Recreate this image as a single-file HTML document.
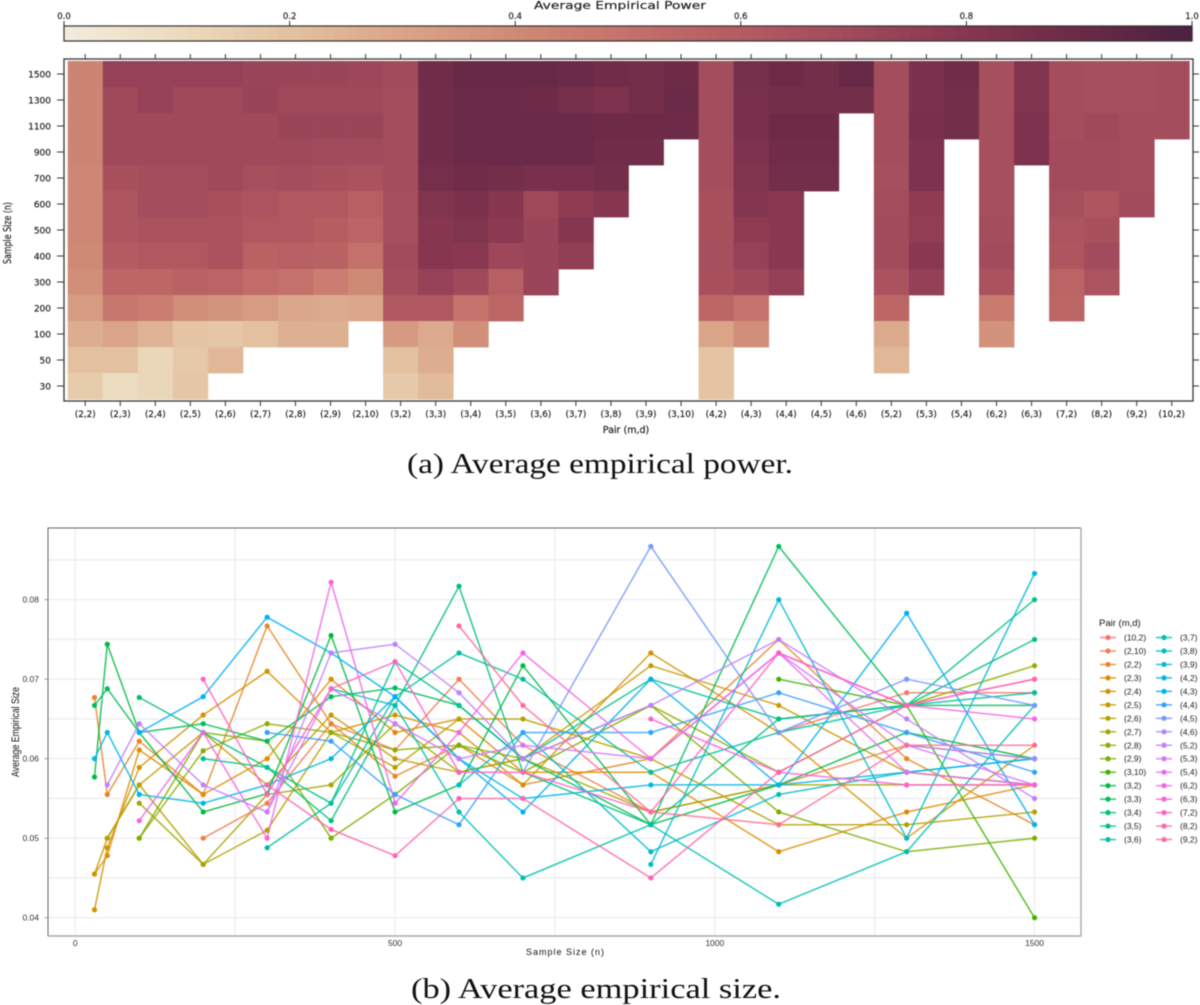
<!DOCTYPE html>
<html lang="en">
<head>
<meta charset="utf-8">
<title>Average empirical power and size</title>
<style>
  html, body { margin: 0; padding: 0; background: #fff; width: 1200px; height: 1005px; overflow: hidden; }
  svg { display: block; filter: blur(0.45px); }
  .lv { font-family: "DejaVu Sans", sans-serif; fill: #222; stroke: #222; stroke-width: 0.18px; }
  .gg { font-family: "Liberation Sans", sans-serif; }
  .cap { font-family: "Liberation Serif", serif; font-size: 29px; fill: #111; }
</style>
</head>
<body>
<svg id="figure" xmlns="http://www.w3.org/2000/svg" width="1200" height="1005" viewBox="0 0 1200 1005">
  <rect x="0" y="0" width="1200" height="1005" fill="#fff"/>
  <text class="lv" x="620" y="9" text-anchor="middle" font-size="11" textLength="172" lengthAdjust="spacingAndGlyphs">Average Empirical Power</text>
  <g id="colorbar"></g>
  <g id="heatmap"></g>
  <text class="lv" x="626" y="433" text-anchor="middle" font-size="9.5">Pair (m,d)</text>
  <text class="lv" transform="translate(11,233) rotate(-90)" text-anchor="middle" font-size="10.5" textLength="62" lengthAdjust="spacingAndGlyphs">Sample Size (n)</text>
  <text class="cap" x="407" y="473" textLength="386" lengthAdjust="spacingAndGlyphs">(a) Average empirical power.</text>
  <g id="linechart"></g>
  <text class="gg" x="565" y="955" text-anchor="middle" font-size="9" fill="#111" textLength="78" lengthAdjust="spacing">Sample Size (n)</text>
  <text class="gg" transform="translate(19,732) rotate(-90)" text-anchor="middle" font-size="11" fill="#111" textLength="90" lengthAdjust="spacingAndGlyphs">Average Empirical Size</text>
  <text class="gg" x="1099" y="626" font-size="9.5" fill="#111">Pair (m,d)</text>
  <g id="legend"></g>
  <text class="cap" x="411" y="998" textLength="370" lengthAdjust="spacingAndGlyphs">(b) Average empirical size.</text>
</svg>
<script>
const _ = null;

/* ---------- shared data ---------- */
const sampleSizes = [30, 50, 100, 200, 300, 400, 500, 600, 700, 900, 1100, 1300, 1500];

/* ---------- heatmap data ---------- */
const heatColumns = ["(2,2)","(2,3)","(2,4)","(2,5)","(2,6)","(2,7)","(2,8)","(2,9)","(2,10)","(3,2)","(3,3)","(3,4)","(3,5)","(3,6)","(3,7)","(3,8)","(3,9)","(3,10)","(4,2)","(4,3)","(4,4)","(4,5)","(4,6)","(5,2)","(5,3)","(5,4)","(6,2)","(6,3)","(7,2)","(8,2)","(9,2)","(10,2)"];
const heatRowLabels = [1500, 1300, 1100, 900, 700, 600, 500, 400, 300, 200, 100, 50, 30];
const powerValues = [
  [.42,.74,.74,.74,.74,.72,.72,.72,.71,.69,.88,.91,.91,.91,.90,.88,.87,.89,.68,.86,.89,.87,.91,.68,.84,.88,.67,.82,.68,.67,.67,.68],
  [.42,.70,.74,.70,.70,.73,.70,.70,.70,.68,.88,.90,.90,.89,.86,.83,.87,.90,.68,.85,.87,.87,.87,.68,.84,.87,.67,.82,.68,.67,.67,.68],
  [.42,.70,.70,.70,.70,.70,.72,.72,.72,.68,.88,.90,.90,.90,.90,.89,.89,.89,.68,.85,.89,.89,_,.68,.85,.87,.67,.83,.68,.70,.68,.68],
  [.42,.70,.70,.70,.70,.70,.70,.69,.69,.68,.88,.90,.90,.90,.90,.88,.88,_,.68,.83,.88,.88,_,.68,.83,_,.67,.83,.69,.69,.68,_],
  [.41,.66,.68,.68,.70,.67,.68,.66,.65,.68,.86,.88,.87,.85,.85,.87,_,_,.68,.82,.87,.87,_,.67,.83,_,.67,_,.69,.69,.68,_],
  [.41,.63,.68,.68,.66,.64,.62,.62,.58,.67,.82,.84,.80,.70,.77,.80,_,_,.66,.81,.79,_,_,.68,.77,_,.67,_,.67,.63,.69,_],
  [.41,.63,.65,.65,.65,.62,.62,.59,.56,.67,.80,.82,.78,.72,.80,_,_,_,.66,.77,.79,_,_,.69,.76,_,.68,_,.64,.66,_,_],
  [.40,.60,.62,.62,.65,.57,.58,.57,.50,.69,.80,.79,.71,.72,.76,_,_,_,.67,.74,.79,_,_,.69,.79,_,.69,_,.63,.69,_,_],
  [.38,.55,.55,.57,.56,.52,.50,.45,.40,.68,.74,.70,.58,.72,_,_,_,_,.66,.70,.75,_,_,.65,.75,_,.65,_,.56,.64,_,_],
  [.33,.47,.45,.39,.36,.33,.29,.28,.29,.62,.62,.49,.55,_,_,_,_,_,.55,.49,_,_,_,.55,_,_,.46,_,.55,_,_,_],
  [.27,.30,.25,.19,.18,.20,.26,.26,_,.34,.28,.38,_,_,_,_,_,_,.30,.38,_,_,_,.28,_,_,.37,_,_,_,_,_],
  [.20,.20,.12,.17,.23,_,_,_,_,.20,.27,_,_,_,_,_,_,_,.19,_,_,_,_,.23,_,_,_,_,_,_,_,_],
  [.16,.10,.12,.18,_,_,_,_,_,.17,.22,_,_,_,_,_,_,_,.19,_,_,_,_,_,_,_,_,_,_,_,_,_]
];
const colorbarTicks = [0, 0.2, 0.4, 0.6, 0.8, 1];

/* ---------- line chart data ---------- */
const pairs = ["(10,2)","(2,10)","(2,2)","(2,3)","(2,4)","(2,5)","(2,6)","(2,7)","(2,8)","(2,9)","(3,10)","(3,2)","(3,3)","(3,4)","(3,5)","(3,6)","(3,7)","(3,8)","(3,9)","(4,2)","(4,3)","(4,4)","(4,5)","(4,6)","(5,2)","(5,3)","(5,4)","(6,2)","(6,3)","(7,2)","(8,2)","(9,2)"];
const sizeValues = [
  [_,_,_,_,_,_,_,_,_,_,.0633,.0683,.0683],
  [_,_,_,.05,.0544,.0644,.0611,.07,.0617,.0533,.0567,.0617,.06],
  [.0677,.0555,.0622,.0555,.0767,.0644,.0578,.0617,.0567,.06,.075,.06,.0517],
  [.0455,.0478,.0611,.0555,.06,.07,.0633,.065,.0583,.0583,.0483,.0533,.0567],
  [.041,.0488,.0589,.0655,.071,.0633,.0655,.0633,.0567,.0733,.0633,.05,.0617],
  [.0455,.05,.0567,.0633,.0567,.0655,.06,.0583,.06,.0717,.0667,.0583,.0567],
  [_,.05,.0567,.0467,.051,.0633,.0589,.065,.065,.06,.0517,.0517,.0533],
  [_,_,.0544,.0467,.0555,.0567,.0644,.0583,.06,.0533,.0567,.0567,.0567],
  [_,_,.05,.061,.0644,.0633,.0611,.0617,.06,.0667,.0583,.0667,.0717],
  [_,_,.05,.0633,.0622,.05,.0555,.0617,.0583,.0667,.0533,.0483,.05],
  [_,_,_,_,_,_,_,_,_,_,.07,.0667,.04],
  [.0577,.0744,.0633,.0533,.0556,.0755,.0533,.0567,.0717,.0517,.0567,.0633,.06],
  [.0667,.0688,.0633,.0644,.0622,.0678,.0689,.0667,.06,.0517,.0867,.0667,.0667],
  [_,_,.0677,.0633,.0589,.0522,.0667,.0817,.0583,.0517,.065,.0667,.075],
  [_,_,_,.06,.0589,.0544,.0722,.0667,.06,.07,.065,.0667,.08],
  [_,_,_,_,.0488,.0544,.0678,.0733,.07,.0583,.0633,.0667,.0683],
  [_,_,_,_,_,.0688,.0667,.0533,.045,.0517,.0417,.0483,.0667],
  [_,_,_,_,_,_,_,.0567,.0633,.0483,.0555,.0583,.06],
  [_,_,_,_,_,_,_,_,_,.0467,.08,.05,.0833],
  [.06,.0633,.0555,.0544,.0567,.06,.0678,.06,.055,.0567,.0567,.0583,.06],
  [_,_,.0633,.0678,.0778,.0733,.0678,.06,.0533,.07,.0567,.0783,.0517],
  [_,_,_,_,.0633,.0622,.0555,.0517,.0633,.0633,.0683,.0633,.0583],
  [_,_,_,_,_,_,_,_,.0583,.0867,.0633,.07,.0667],
  [_,_,_,_,_,_,_,_,_,_,_,.0617,.06],
  [_,.0567,.0644,.0567,.0533,.0733,.0744,.0683,.06,.0667,.075,.065,.055],
  [_,_,_,_,.0533,.0688,.0644,.06,.0617,.06,.0733,.0617,.0567],
  [_,_,_,_,_,_,_,_,_,_,.0733,.0583,.0567],
  [_,_,.0522,.0633,.05,.0822,.0544,.0633,.0733,.06,.0733,.0667,.065],
  [_,_,_,_,_,_,_,_,_,.065,.0583,.0567,.0567],
  [_,_,_,.07,.0555,.0688,.0722,.0583,.0583,.0533,.0733,.0667,.07],
  [_,_,_,_,.0567,.0511,.0478,.055,.055,.045,.0583,.0667,.07],
  [_,_,_,_,_,_,_,.0767,.0667,.0533,.0517,.0617,.0617]
];
const xTickLabels = [0, 500, 1000, 1500];
const xMinorTicks = [250, 750, 1250];
const yTickLabels = [0.04, 0.05, 0.06, 0.07, 0.08];
const yMinorTicks = [0.045, 0.055, 0.065, 0.075, 0.085];

/* ---------- styles ---------- */
const pairColors = ["#F8766D","#F07E4E","#E88526","#DE8C00","#D49200","#C79800","#B79F00","#A6A400","#93AA00","#7CAE00","#3DB400","#00BA42","#00BC59","#00BF76","#00C08B","#00BFA0","#00BFB2","#00BDC4","#00BAD5","#00B6E5","#00B0F6","#35A2FF","#7997FF","#A58AFF","#BF80FF","#D575FE","#E76BF3","#F365E6","#FB61D7","#FF61C3","#FF65AE","#FF6C91"];
const rampStops = ["#f3ecdc","#ecdcc0","#e3c19f","#d9a488","#cf8a75","#c4706b","#b35c61","#a0495b","#873650","#6b2a47","#4b2140"];

const NS = "http://www.w3.org/2000/svg";
function mk(parent, tag) {
  const el = document.createElementNS(NS, tag);
  parent.appendChild(el);
  return el;
}
function setAll(el, o) { for (const k in o) el.setAttribute(k, o[k]); return el; }
function hexRgb(h) { return [1,3,5].map(i => parseInt(h.substr(i,2),16)); }
function ramp(v) {
  const t = Math.max(0, Math.min(1, v)) * (rampStops.length - 1);
  const i = Math.min(Math.floor(t), rampStops.length - 2);
  const f = t - i, a = hexRgb(rampStops[i]), b = hexRgb(rampStops[i+1]);
  return "rgb(" + a.map((c,k) => Math.round(c + (b[k]-c)*f)).join(",") + ")";
}

/* ---------- colorbar ---------- */
(function () {
  const g = document.getElementById("colorbar");
  const x0 = 64, x1 = 1192, y0 = 26, y1 = 41;
  const cx = v => x0 + (x1 - x0) * v;
  const steps = 100;
  for (let i = 0; i < steps; i++) {
    const r = mk(g, "rect");
    
    
    setAll(r, { x: cx(i/steps), y: y0, width: (x1-x0)/steps + 0.6, height: y1-y0, fill: ramp((i+0.5)/steps) });
  }
  const f = mk(g, "rect");
  
  
  setAll(f, { x: x0, y: y0, width: x1-x0, height: y1-y0, fill: "none", stroke: "#333", "stroke-width": 1.2 });
  colorbarTicks.forEach(v => {
    const t = mk(g, "line");
    
    
    setAll(t, { x1: cx(v), x2: cx(v), y1: 21, y2: y0, stroke: "#333", "stroke-width": 1 });
    const l = mk(g, "text");
    
    
    setAll(l, { x: cx(v), y: 19, "text-anchor": "middle", "font-size": 8.5, class: "lv" });
    l.textContent = v.toFixed(1);
  });
})();

/* ---------- heatmap ---------- */
(function () {
  const g = document.getElementById("heatmap");
  const colX = i => 67.7 + 35.05 * i;
  const rowY = i => 61 + 26 * i;
  const fL = 64, fR = 1193, fT = 59, fB = 401;
  powerValues.forEach((row, ri) => row.forEach((v, ci) => {
    if (v === null) return;
    const r = mk(g, "rect");
    
    
    setAll(r, { x: colX(ci), y: rowY(ri), width: 35.4, height: 26.4, fill: ramp(v) });
  }));
  const f = mk(g, "rect");
  
  
  setAll(f, { x: fL, y: fT, width: fR-fL, height: fB-fT, fill: "none", stroke: "#444", "stroke-width": 1.4 });
  heatColumns.forEach((c, i) => {
    const x = colX(i) + 17.5;
    const tb = mk(g, "line");
    
    
    setAll(tb, { x1: x, x2: x, y1: fB, y2: fB+5, stroke: "#333", "stroke-width": 1 });
    const tt = mk(g, "line");
    
    
    setAll(tt, { x1: x, x2: x, y1: fT-5, y2: fT, stroke: "#333", "stroke-width": 1 });
    const l = mk(g, "text");
    
    
    setAll(l, { x: x, y: 417, "text-anchor": "middle", "font-size": 8.8, class: "lv" });
    l.textContent = c;
  });
  heatRowLabels.forEach((n, i) => {
    const y = rowY(i) + 13;
    const tl = mk(g, "line");
    
    
    setAll(tl, { x1: fL-7, x2: fL, y1: y, y2: y, stroke: "#333", "stroke-width": 1 });
    const tr = mk(g, "line");
    
    
    setAll(tr, { x1: fR, x2: fR+6, y1: y, y2: y, stroke: "#333", "stroke-width": 1 });
    const l = mk(g, "text");
    
    
    setAll(l, { x: 51, y: y + 3.3, "text-anchor": "end", "font-size": 9, class: "lv" });
    l.textContent = n;
  });
})();

/* ---------- line chart ---------- */
(function () {
  const g = document.getElementById("linechart");
  const pL = 48, pR = 1081, pT = 528, pB = 936;
  const xS = n => 75.3 + 0.6395 * n;
  const yS = v => 917.7 - (v - 0.04) * 7950;
  xMinorTicks.concat(xTickLabels).forEach(n => {
    const l = mk(g, "line");
    
    
    setAll(l, { x1: xS(n), x2: xS(n), y1: pT, y2: pB, stroke: "#eeeeee", "stroke-width": 1.3 });
  });
  yMinorTicks.concat(yTickLabels).forEach(v => {
    const l = mk(g, "line");
    
    
    setAll(l, { x1: pL, x2: pR, y1: yS(v), y2: yS(v), stroke: "#eeeeee", "stroke-width": 1.3 });
  });
  sizeValues.forEach((vals, si) => {
    const pts = [];
    vals.forEach((v, i) => { if (v !== null) pts.push(xS(sampleSizes[i]).toFixed(1) + "," + yS(v).toFixed(1)); });
    const pl = mk(g, "polyline");
    
    
    setAll(pl, { points: pts.join(" "), fill: "none", stroke: pairColors[si], "stroke-width": 1.5, "stroke-opacity": 0.85, "stroke-linejoin": "round" });
  });
  sizeValues.forEach((vals, si) => {
    vals.forEach((v, i) => {
      if (v === null) return;
      const c = mk(g, "circle");
      
      
      setAll(c, { cx: xS(sampleSizes[i]), cy: yS(v), r: 2.6, fill: pairColors[si] });
    });
  });
  const b = mk(g, "path");
  
  
  setAll(b, { d: `M${pL} ${pB}V${pT}H${pR}`, fill: "none", stroke: "#666", "stroke-width": 1 });
  const b2 = mk(g, "path");
  
  
  setAll(b2, { d: `M${pL} ${pB}H${pR}V${pT}`, fill: "none", stroke: "#aaa", "stroke-width": 1.4 });
  xTickLabels.forEach(n => {
    const l = mk(g, "text");
    
    
    setAll(l, { x: xS(n), y: 946, "text-anchor": "middle", "font-size": 8.5, fill: "#333", class: "gg" });
    l.textContent = n;
  });
  yTickLabels.forEach(v => {
    const l = mk(g, "text");
    
    
    setAll(l, { x: 39, y: yS(v) + 3, "text-anchor": "end", "font-size": 8.5, fill: "#333", class: "gg" });
    l.textContent = v.toFixed(2);
    const t = mk(g, "line");
    
    
    setAll(t, { x1: 44.5, x2: pL, y1: yS(v), y2: yS(v), stroke: "#888", "stroke-width": 0.8 });
  });
})();

/* ---------- legend ---------- */
(function () {
  const g = document.getElementById("legend");
  pairs.forEach((p, i) => {
    const col = i < 16 ? 0 : 1;
    const y = 637.5 + 13.47 * (i % 16);
    const kx = col ? 1156 : 1100;
    const tx = col ? 1180 : 1124;
    const l = mk(g, "line");
    
    
    setAll(l, { x1: kx, x2: kx + 16, y1: y, y2: y, stroke: pairColors[i], "stroke-width": 1.5, "stroke-opacity": 0.85 });
    const c = mk(g, "circle");
    
    
    setAll(c, { cx: kx + 8, cy: y, r: 2.6, fill: pairColors[i] });
    const t = mk(g, "text");
    
    
    setAll(t, { x: tx, y: y + 3, "font-size": 8.5, fill: "#222", class: "gg" });
    t.textContent = p;
  });
})();
</script>
</body>
</html>
